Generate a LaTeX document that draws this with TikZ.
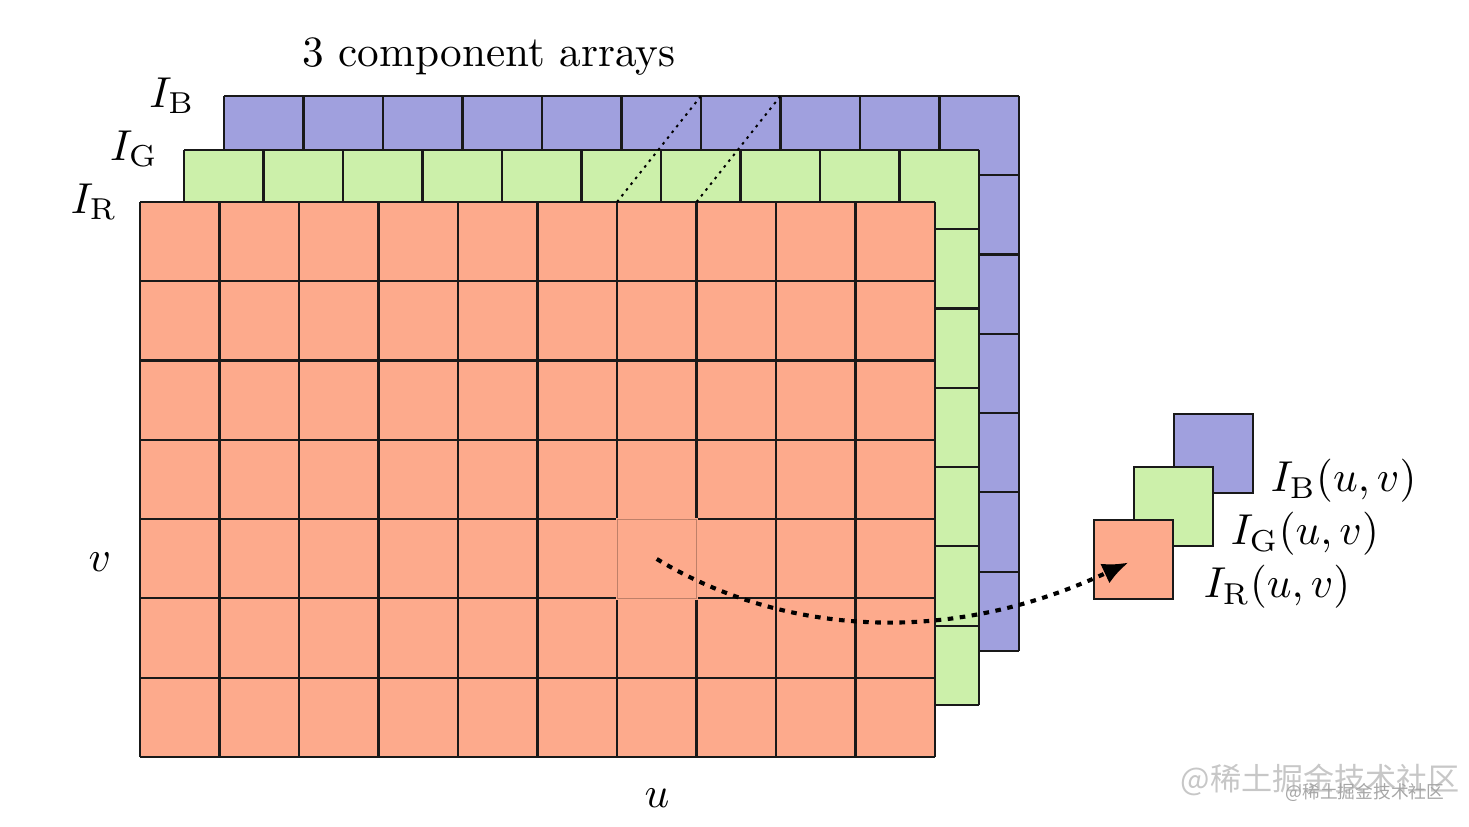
\documentclass[tikz,border=0pt]{standalone}
\usepackage{fontspec}
\newfontfamily\cjkfont{Noto Sans CJK SC}
\usetikzlibrary{arrows.meta}
\definecolor{redc}{RGB}{253,170,140}
\definecolor{greenc}{RGB}{204,240,170}
\definecolor{bluec}{RGB}{160,160,222}
\newcommand\drawlayer[3]{%
  \fill[#3] (#1,#2) rectangle ++(795,555);
  \foreach \i in {0,...,10} \draw[gridline] ({#1+\i*79.5},#2) -- ++(0,555);
  \foreach \j in {0,...,7} \draw[gridline] (#1,{#2+\j*79.2857}) -- ++(795,0);
}
\begin{document}
\begin{tikzpicture}[x=0.2313pt,y=-0.2313pt,
  gridline/.style={draw=black!90,line width=0.5pt},
  pix/.style={draw=black!90,line width=0.5pt,minimum size=18.39pt,inner sep=0pt,outer sep=0pt},
  lbl/.style={inner sep=0pt},
  guide/.style={line width=0.45pt,dash pattern=on 0.6pt off 1.1pt},
  conn/.style={line width=0.95pt,dash pattern=on 1.3pt off 1.5pt},
  wm/.style={text=black!22,inner sep=0pt}]
\useasboundingbox (0,0) rectangle (1469,827);
\drawlayer{224}{96}{bluec}
\drawlayer{184}{150}{greenc}
\drawlayer{140}{202}{redc}
% highlighted pixel
\fill[redc] (616,518.2) rectangle (697.5,599.7);
\node[draw=redc!75!black,line width=0.15pt,minimum width=18.39pt,minimum height=18.34pt,inner sep=0pt] (hl) at (656.75,559) {};
% dotted column guides
\coordinate (r1) at (617,202); \coordinate (b1) at (701,96);
\coordinate (r2) at (696.5,202); \coordinate (b2) at (780.5,96);
\draw[guide] (r1) -- (b1);
\draw[guide] (r2) -- (b2);
% labels
\node[lbl] (title) at (489,57) {3 component arrays};
\node[lbl] (lb) at (172,96) {$I_{\mathrm{B}}$};
\node[lbl] (lg) at (134,149) {$I_{\mathrm{G}}$};
\node[lbl] (lr) at (94,202) {$I_{\mathrm{R}}$};
\node[lbl] (lv) at (100,562) {$v$};
\node[lbl] (lu) at (657,798) {$u$};
% pixel stack
\node[pix,fill=bluec] (pB) at (1213.5,453.5) {};
\node[pix,fill=greenc] (pG) at (1173.5,506.5) {};
\node[pix,fill=redc] (pR) at (1133.5,559.5) {};
\node[lbl,anchor=west] (tB) at (1270,481) {$I_{\mathrm{B}}(u,v)$};
\node[lbl,anchor=west] (tG) at (1230,534) {$I_{\mathrm{G}}(u,v)$};
\node[lbl,anchor=west] (tR) at (1203,587) {$I_{\mathrm{R}}(u,v)$};
% arrow
\draw[conn,-{Latex[length=6pt,width=5pt]}] (hl.center) .. controls (765,625) and (930,655) .. ([shift={(-5,3)}]pR.center);
% watermark
\node[wm,font=\cjkfont\fontsize{7.2pt}{8pt}\selectfont] (wm1) at (1320,780) {@稀土掘金技术社区};
\node[wm,text=black!35,font=\cjkfont\fontsize{4.1pt}{5pt}\selectfont] (wm2) at (1365,793) {@稀土掘金技术社区};
\end{tikzpicture}
\end{document}
